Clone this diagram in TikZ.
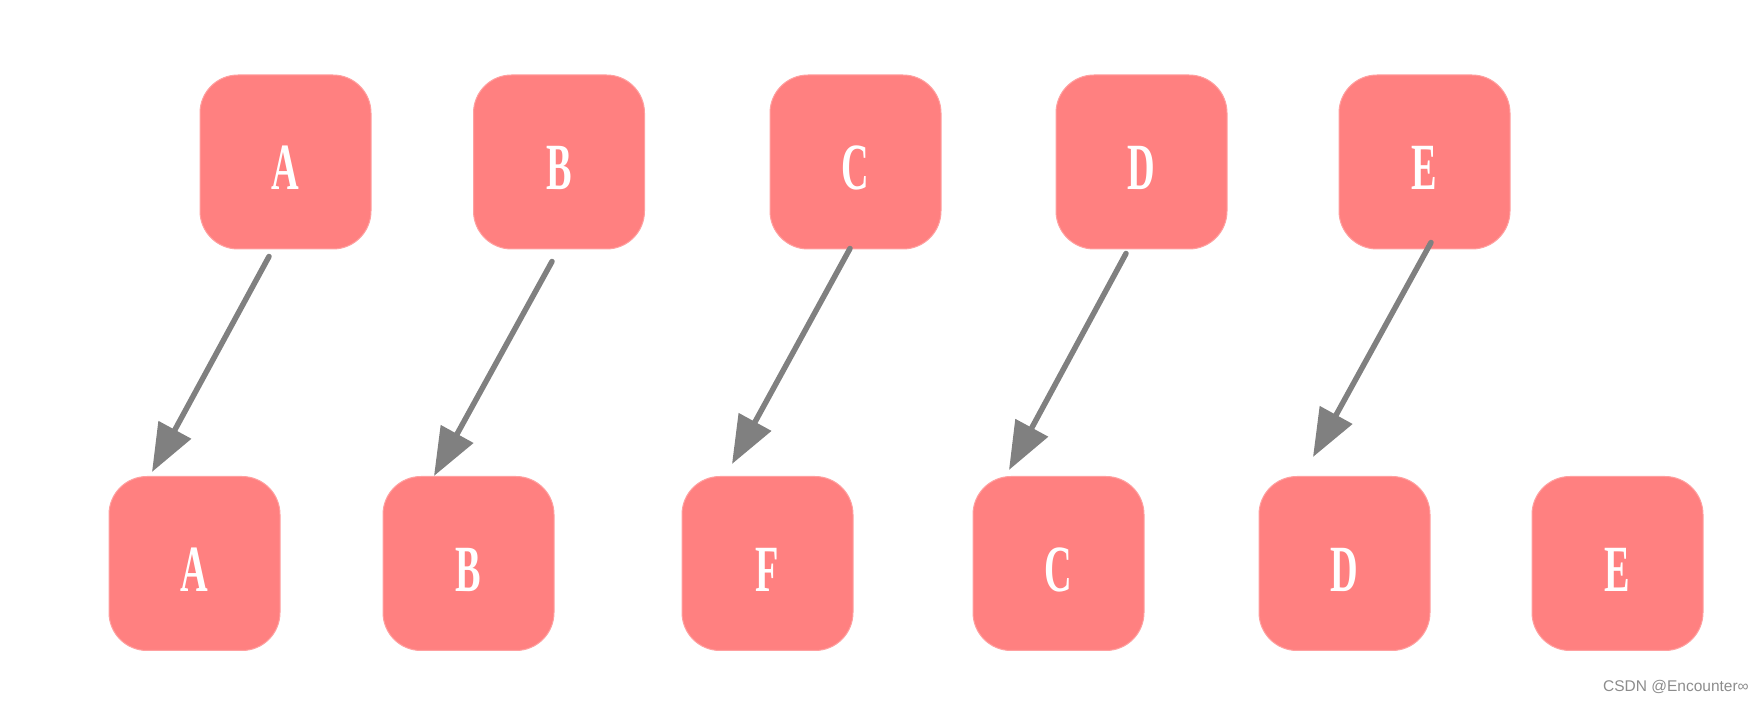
\documentclass[tikz,border=0pt]{standalone}
\usepackage{fontspec}
\usetikzlibrary{arrows.meta,calc}
\newfontfamily\boxfont[FakeStretch=0.58]{Liberation Serif Bold}
\newfontfamily\markfont{Liberation Sans}
\definecolor{boxred}{RGB}{255,128,128}
\definecolor{edgegray}{RGB}{128,128,128}
\definecolor{markgray}{RGB}{140,140,140}
\tikzset{
  box/.style={fill=boxred, draw=boxred!75!white, line width=1pt, rounded corners=38pt,
    minimum width=171pt, minimum height=174pt, inner sep=0pt,
    text=white, font=\boxfont\fontsize{66}{66}\selectfont},
  lbl/.style={text=white, inner sep=0pt, font=\boxfont\fontsize{66}{66}\selectfont},
  edge/.style={draw=edgegray, line width=5.5pt, line cap=round,
    -{Triangle[length=48pt,width=36pt]}},
  watermark/.style={text=markgray, font=\markfont\fontsize{15.5}{15.5}\selectfont, inner sep=0pt}
}
\begin{document}
\begin{tikzpicture}[x=1pt,y=1pt]
\useasboundingbox (0,0) rectangle (1764,704);
% top row (y = 704 - 162)
\node[box] (tA) at (285.5,542) {};
\node[box] (tB) at (559,542) {};
\node[box] (tC) at (855.5,542) {};
\node[box] (tD) at (1141.5,542) {};
\node[box] (tE) at (1424.5,542) {};
% bottom row (y = 704 - 563.5)
\node[box] (bA) at (194.5,140.5) {};
\node[box] (bB) at (468.5,140.5) {};
\node[box] (bF) at (767.5,140.5) {};
\node[box] (bC) at (1058.5,140.5) {};
\node[box] (bD) at (1344.5,140.5) {};
\node[box] (bE) at (1617.5,140.5) {};
% labels, slightly below the box centres
\foreach \n/\t in {tA/A,tB/B,tC/C,tD/D,tE/E,bA/A,bB/B,bF/F,bC/C,bD/D,bE/E}
  \node[lbl] (\n-l) at ($(\n.center)+(0,-6)$) {\t};
% edges
\draw[edge] ($(tA.south)+(-16.5,-7)$) -- ($(bA.north)+(-42.5,4)$);
\draw[edge] ($(tB.south)+(-7,-12)$) -- ($(bB.north)+(-34.5,0)$);
\draw[edge] ($(tC.south)+(-5.5,1)$) -- ($(bF.north)+(-35.5,12)$);
\draw[edge] ($(tD.south)+(-15.5,-4)$) -- ($(bC.north)+(-49.5,6)$);
\draw[edge] ($(tE.south)+(6.5,7)$) -- ($(bD.north)+(-31.5,19)$);
% watermark
\node[watermark, anchor=east] (wm) at (1749,17) {CSDN @Encounter∞};
\end{tikzpicture}
\end{document}
